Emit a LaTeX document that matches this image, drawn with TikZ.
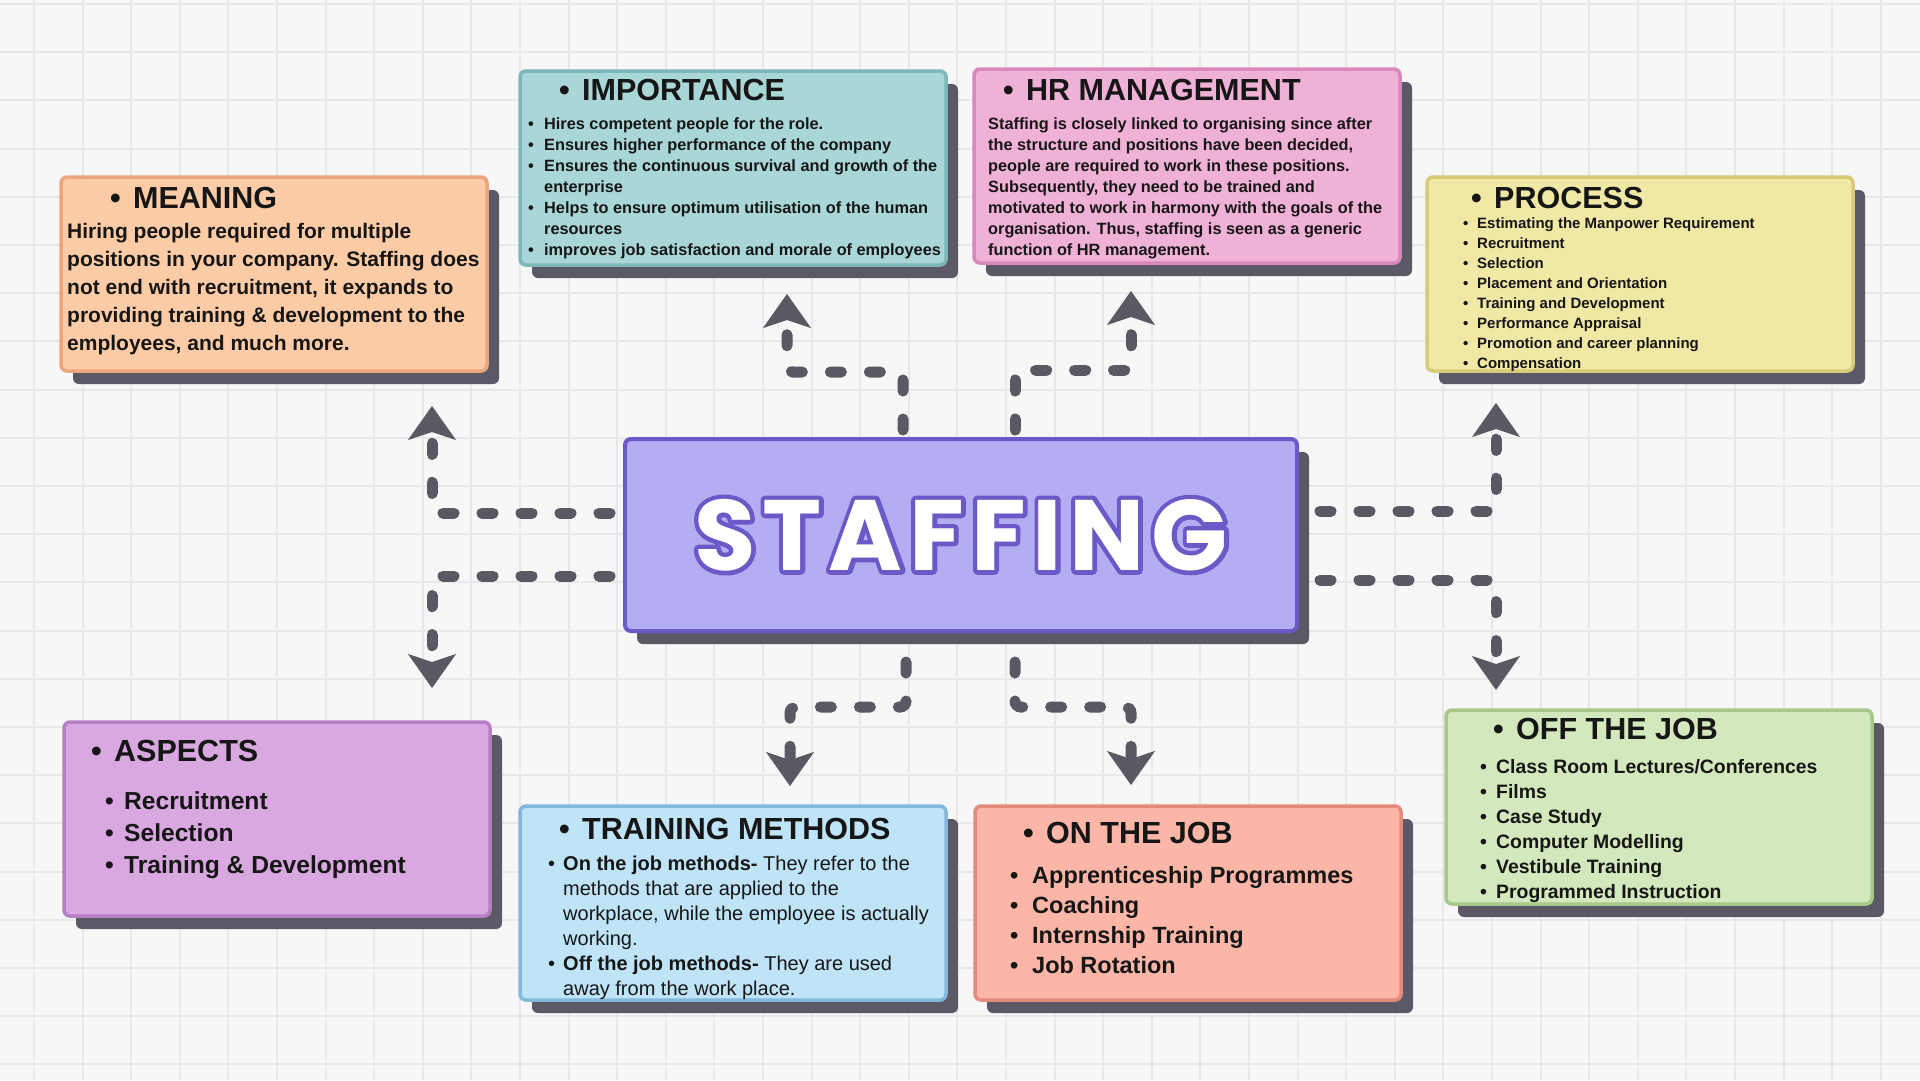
\documentclass[tikz,border=0pt]{standalone}
\usepackage{fontspec}
\setmainfont{Liberation Sans}
\newfontfamily\staffont{Poppins}[LetterSpace=7]
\usetikzlibrary{arrows.meta,shadows}

\definecolor{paper}{HTML}{F7F7F8}
\definecolor{gridcol}{HTML}{E8E8EB}
\definecolor{shadowgrey}{HTML}{5B5966}
\definecolor{arrowgrey}{HTML}{5A5863}
\definecolor{inkcol}{HTML}{161616}
\definecolor{meanfill}{HTML}{FDCBA6}   \definecolor{meanline}{HTML}{EAA67C}
\definecolor{impfill}{HTML}{A9D6D6}    \definecolor{impline}{HTML}{7DB8B9}
\definecolor{hrfill}{HTML}{F0B1D6}     \definecolor{hrline}{HTML}{D888BC}
\definecolor{procfill}{HTML}{F1E8A6}   \definecolor{procline}{HTML}{D7CB78}
\definecolor{stafffill}{HTML}{B2AEF1}  \definecolor{staffline}{HTML}{6C58C6}
\definecolor{aspfill}{HTML}{D9A8E0}    \definecolor{aspline}{HTML}{B67FC5}
\definecolor{trainfill}{HTML}{BFE4F7}  \definecolor{trainline}{HTML}{82B8DC}
\definecolor{onfill}{HTML}{FBB6A8}     \definecolor{online}{HTML}{E38A7B}
\definecolor{offfill}{HTML}{D3E8BC}    \definecolor{offline}{HTML}{A6C98A}

\newcommand{\tb}{\makebox[23pt][l]{\textbullet}}
\newcommand{\bul}[1]{\makebox[#1][l]{\textbullet}}
\newcommand{\cont}[1]{\hspace*{#1}}
% outlined text: stroke and fill the glyphs
\newcommand{\stroked}[1]{\special{pdf:literal direct 2 Tr 9 w 1 j}#1\special{pdf:literal direct 0 Tr 1 w}}

\tikzset{
  card/.style={draw=#1line, fill=#1fill, line width=3.5pt, rounded corners=6pt,
    minimum width=426pt, minimum height=194pt,
    drop shadow={shadow xshift=12pt, shadow yshift=-13pt, fill=shadowgrey, opacity=1}},
  title/.style={anchor=west, inner sep=0, text=inkcol,
    font=\fontsize{30.5}{34}\selectfont\bfseries},
  body/.style={anchor=north west, align=left, inner sep=0, text=inkcol},
  bigword/.style={inner sep=0, font=\staffont\bfseries\fontsize{100}{110}\selectfont},
  flow/.style={draw=arrowgrey, line width=11pt, line cap=round, rounded corners=6pt,
    dash pattern=on 11pt off 28pt,
    -{Stealth[length=34pt, width=48pt, inset=8pt, line width=1pt]}},
  gridline/.style={draw=gridcol, line width=2pt}
}

\begin{document}
\begin{tikzpicture}[x=1pt, y=-1pt]
  \useasboundingbox (0,0) rectangle (1920,1080);
  \fill[paper] (0,0) rectangle (1920,1080);
  \foreach \gx in {34,82.6,...,1920} \draw[gridline] (\gx,0) -- (\gx,1080);
  \foreach \gy in {4,52.2,...,1080} \draw[gridline] (0,\gy) -- (1920,\gy);

  % cards
  \node[card=mean] (meaning) at (274,274) {};
  \node[card=imp] (importance) at (733,168) {};
  \node[card=hr] (hrm) at (1187,166) {};
  \node[card=proc] (process) at (1640,274) {};
  \node[card=asp] (aspects) at (277,819) {};
  \node[card=train] (training) at (733,903) {};
  \node[card=on] (onjob) at (1188,903) {};
  \node[card=off] (offjob) at (1659,807) {};
  \node[card=staff, minimum width=672pt, minimum height=192pt, line width=4pt] (staff) at (961,535) {};

  % centre word with outline
  \node[bigword, text=staffline] (staffrim) at (staff.center) {\stroked{STAFFING}};
  \node[bigword, text=white] (staffword) at (staff.center) {STAFFING};

  % titles
  \node[title] (meaningT) at (110,198) {\tb MEANING};
  \node[title] (importanceT) at (559,90) {\tb IMPORTANCE};
  \node[title] (hrmT) at (1003,90) {\tb HR MANAGEMENT};
  \node[title] (processT) at (1471,198) {\tb PROCESS};
  \node[title] (aspectsT) at (91,751) {\tb ASPECTS};
  \node[title] (trainingT) at (559,829) {\tb TRAINING METHODS};
  \node[title] (onjobT) at (1023,833) {\tb ON THE JOB};
  \node[title] (offjobT) at (1493,729) {\tb OFF THE JOB};

  % texts
  \node[body, font=\fontsize{21}{28}\selectfont\bfseries] (meaningB) at (67,223) {%
    Hiring people required for multiple\\
    positions in your company. Staffing does\\
    not end with recruitment, it expands to\\
    providing training \& development to the\\
    employees, and much more.};
  \node[body, font=\fontsize{16.3}{21}\selectfont\bfseries] (importanceB) at (528,117) {%
    \bul{16pt}Hires competent people for the role.\\
    \bul{16pt}Ensures higher performance of the company\\
    \bul{16pt}Ensures the continuous survival and growth of the\\
    \cont{16pt}enterprise\\
    \bul{16pt}Helps to ensure optimum utilisation of the human\\
    \cont{16pt}resources\\
    \bul{16pt}improves job satisfaction and morale of employees};
  \node[body, font=\fontsize{16.3}{21}\selectfont\bfseries] (hrmB) at (988,117) {%
    Staffing is closely linked to organising since after\\
    the structure and positions have been decided,\\
    people are required to work in these positions.\\
    Subsequently, they need to be trained and\\
    motivated to work in harmony with the goals of the\\
    organisation. Thus, staffing is seen as a generic\\
    function of HR management.};
  \node[body, font=\fontsize{15}{20}\selectfont\bfseries] (processB) at (1463,217) {%
    \bul{14pt}Estimating the Manpower Requirement\\
    \bul{14pt}Recruitment\\
    \bul{14pt}Selection\\
    \bul{14pt}Placement and Orientation\\
    \bul{14pt}Training and Development\\
    \bul{14pt}Performance Appraisal\\
    \bul{14pt}Promotion and career planning\\
    \bul{14pt}Compensation};
  \node[body, font=\fontsize{24.6}{32}\selectfont\bfseries] (aspectsB) at (105,791) {%
    \bul{19pt}Recruitment\\
    \bul{19pt}Selection\\
    \bul{19pt}Training \& Development};
  \node[body, font=\fontsize{20}{25}\selectfont] (trainingB) at (548,856) {%
    \bul{15pt}\textbf{On the job methods-} They refer to the\\
    \cont{15pt}methods that are applied to the\\
    \cont{15pt}workplace, while the employee is actually\\
    \cont{15pt}working.\\
    \bul{15pt}\textbf{Off the job methods-} They are used\\
    \cont{15pt}away from the work place.};
  \node[body, font=\fontsize{23.5}{30}\selectfont\bfseries] (onjobB) at (1010,866) {%
    \bul{22pt}Apprenticeship Programmes\\
    \bul{22pt}Coaching\\
    \bul{22pt}Internship Training\\
    \bul{22pt}Job Rotation};
  \node[body, font=\fontsize{19.4}{25}\selectfont\bfseries] (offjobB) at (1480,759) {%
    \bul{16pt}Class Room Lectures/Conferences\\
    \bul{16pt}Films\\
    \bul{16pt}Case Study\\
    \bul{16pt}Computer Modelling\\
    \bul{16pt}Vestibule Training\\
    \bul{16pt}Programmed Instruction};

  % arrow tips
  \coordinate (tipMeaning) at (432,406);
  \coordinate (tipAspects) at (432,688);
  \coordinate (tipImportance) at (787,294);
  \coordinate (tipHrm) at (1131,291);
  \coordinate (tipProcess) at (1496,403);
  \coordinate (tipOffjob) at (1496,690);
  \coordinate (tipTraining) at (790,786);
  \coordinate (tipOnjob) at (1131,785);

  % connectors
  \draw[flow] ([xshift=-13pt,yshift=22pt]staff.west) -| (tipMeaning);
  \draw[flow] ([xshift=-13pt,yshift=-41pt]staff.west) -| (tipAspects);
  \draw[flow] ([xshift=-58pt,yshift=7pt]staff.north) -- ++(0,-58) -| (tipImportance);
  \draw[flow] ([xshift=54pt,yshift=7pt]staff.north) -- ++(0,-60) -| (tipHrm);
  \draw[flow] ([xshift=21pt,yshift=24pt]staff.east) -| (tipProcess);
  \draw[flow] ([xshift=21pt,yshift=-45pt]staff.east) -| (tipOffjob);
  \draw[flow] ([xshift=-55pt,yshift=-29pt]staff.south) -- ++(0,45) -| (tipTraining);
  \draw[flow] ([xshift=54pt,yshift=-29pt]staff.south) -- ++(0,45) -| (tipOnjob);
\end{tikzpicture}
\end{document}
